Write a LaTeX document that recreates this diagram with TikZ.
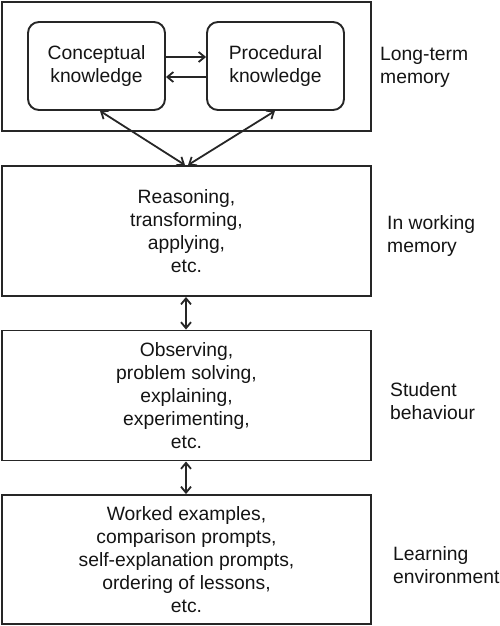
\documentclass[tikz,border=0pt]{standalone}
\usepackage{fontspec}
\setmainfont{Liberation Sans}
\usetikzlibrary{arrows.meta}
\definecolor{linec}{HTML}{262626}
\definecolor{textc}{HTML}{141414}
\begin{document}
\begin{tikzpicture}[x=1pt,y=-1pt,
  txt/.style={font=\fontsize{19.3}{23}\selectfont, text=textc},
  bigbox/.style={draw=linec, line width=1.9pt, minimum width=369pt, inner sep=0pt, align=center, txt},
  knbox/.style={draw=linec, line width=1.9pt, rounded corners=11pt, minimum width=137pt, minimum height=88pt, inner sep=0pt, align=center, txt},
  lbl/.style={txt, anchor=west, align=left, inner sep=0pt},
  conn/.style={draw=linec, line width=1.8pt, {Straight Barb[length=6pt,width=10pt]}-{Straight Barb[length=6pt,width=10pt]}},
  one/.style={draw=linec, line width=1.8pt, -{Straight Barb[length=6pt,width=10pt]}}
]
\useasboundingbox (0,0) rectangle (500,626);
\node[bigbox, minimum height=129pt] (b1) at (186.5,66.5) {};
\node[knbox] (c) at (96.5,66) {Conceptual\\knowledge};
\node[knbox] (p) at (275.5,66) {Procedural\\knowledge};
\node[bigbox, minimum height=130pt] (b2) at (186.5,231) {Reasoning,\\transforming,\\applying,\\etc.};
\node[bigbox, minimum height=130pt] (b3) at (186.5,395.5) {Observing,\\problem solving,\\explaining,\\experimenting,\\etc.};
\node[bigbox, minimum height=129pt] (b4) at (186.5,559.5) {Worked examples,\\comparison prompts,\\self-explanation prompts,\\ordering of lessons,\\etc.};

\node[lbl] (l1) at (380,67) {Long-term\\memory};
\node[lbl] (l2) at (387,236) {In working\\memory};
\node[lbl] (l3) at (390,401) {Student\\behaviour};
\node[lbl] (l4) at (393,565) {Learning\\environment};

\draw[one] ([yshift=9pt]c.east) -- ([yshift=9pt]p.west);
\draw[one] ([yshift=-11pt]p.west) -- ([yshift=-11pt]c.east);
\coordinate (cs) at ([xshift=3.5pt]c.south);
\coordinate (ps) at ([xshift=-0.5pt]p.south);
\coordinate (t1) at ([xshift=-1.5pt]b2.north);
\coordinate (t2) at ([xshift=1.5pt]b2.north);
\draw[conn] (cs) -- (t1);
\draw[conn] (ps) -- (t2);
\draw[conn] ([xshift=-0.5pt]b2.south) -- ([xshift=-0.5pt]b3.north);
\draw[conn] ([xshift=-0.5pt]b3.south) -- ([xshift=-0.5pt]b4.north);
\end{tikzpicture}
\end{document}
